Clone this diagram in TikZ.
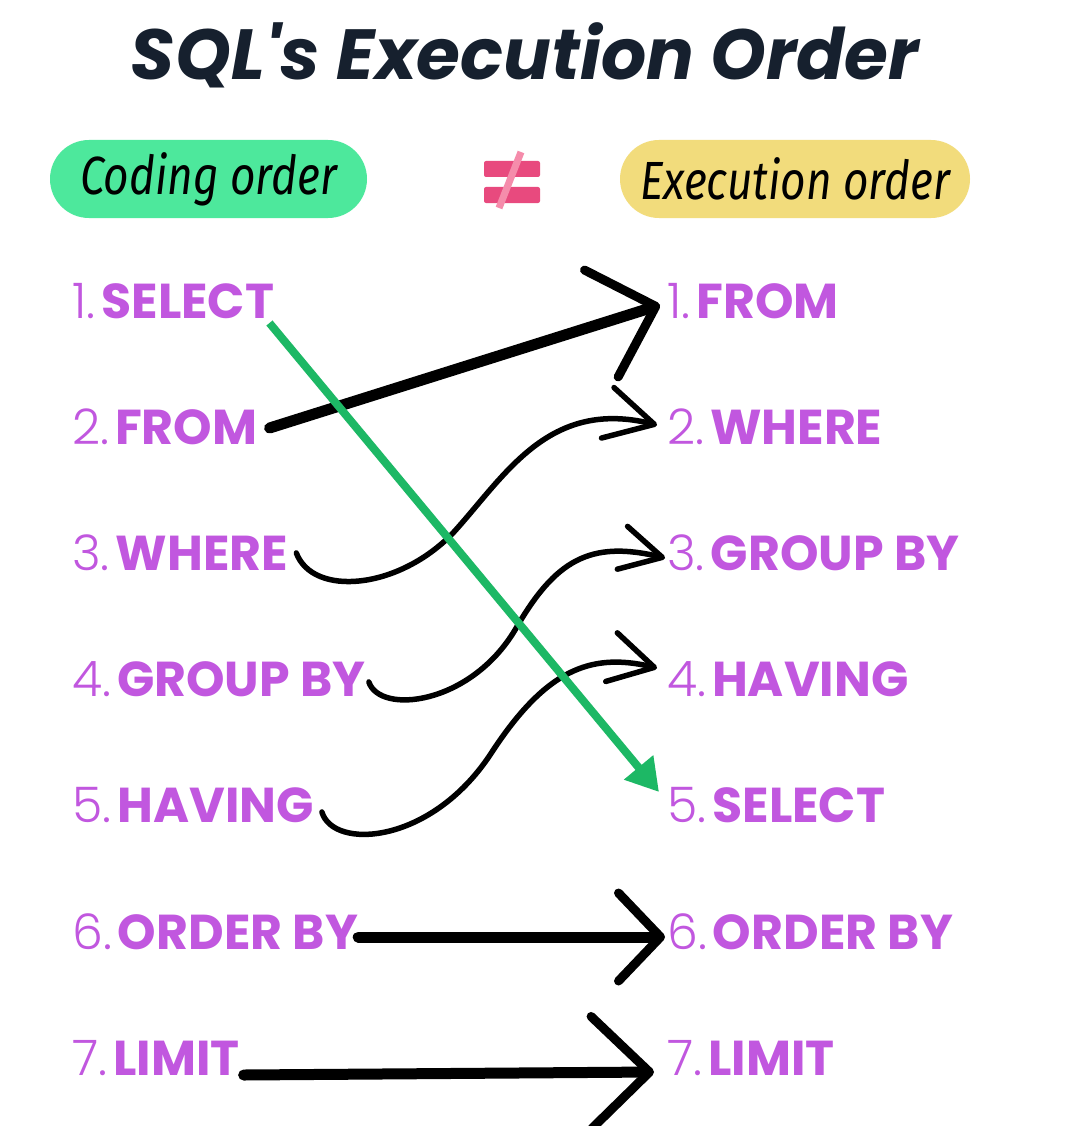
\documentclass[tikz,border=0pt]{standalone}
\usepackage{fontspec}
\usetikzlibrary{arrows.meta,shapes.misc}
\newfontfamily\popfont{Poppins}
\newfontfamily\numfont{Poppins Light}
\newfontfamily\titlefont{Poppins}[Ligatures=TeXOff]
\newfontfamily\handfont{Fira Sans}
\definecolor{titlenavy}{HTML}{16202E}
\definecolor{codegreen}{HTML}{4DE89C}
\definecolor{execyellow}{HTML}{F2DC7C}
\definecolor{neqpink}{HTML}{E84A7E}
\definecolor{neqslash}{HTML}{F58CAB}
\definecolor{itempurple}{HTML}{C157DF}
\definecolor{selgreen}{HTML}{1DB865}
\newcommand{\itemnum}[1]{{\numfont\mdseries #1}\hspace{6pt}}
\newcommand{\handtext}[1]{\scalebox{0.92}[1.12]{#1}}
\tikzstyle{item} = [anchor=base west, inner sep=0pt, text height=36pt, text depth=0pt, text=itempurple, font={\popfont\fontsize{49}{55}\selectfont\bfseries}]
\tikzstyle{pill} = [rounded rectangle, minimum height=78pt, inner sep=0pt, font={\handfont\itshape\fontsize{48}{52}\selectfont}]
\tikzstyle{brush} = [line width=11pt, line cap=round, black]
\tikzstyle{thin} = [line width=5.5pt, line cap=round, black]
\tikzstyle{selarrow} = [line width=8pt, selgreen, -{Triangle[length=32pt,width=36pt]}]

\begin{document}
\begin{tikzpicture}[x=1pt,y=-1pt]
    \useasboundingbox (0,0) rectangle (1078,1126);
    \fill[white] (0,0) rectangle (1078,1126);
    % title and header
    \node[text=titlenavy, font={\titlefont\fontsize{71}{76}\selectfont\bfseries\itshape}] (title) at (525,55) {SQL's Execution Order};
    \node[pill, fill=codegreen, minimum width=317pt] (coding) at (208.5,179) {\handtext{Coding order}};
    \node[pill, fill=execyellow, minimum width=350pt] (exec) at (795,179) {\handtext{Execution order}};
    \fill[neqpink, rounded corners=2pt] (484,161) rectangle (540,177);
    \fill[neqpink, rounded corners=2pt] (484,187) rectangle (540,203);
    \draw[neqslash, line width=7pt] (499,208) -- (521,152);
    % coding order
    \node[item](l1) at (72,318){\itemnum{1.}SELECT};
    \node[item](l2) at (72,444){\itemnum{2.}FROM};
    \node[item](l3) at (72,570){\itemnum{3.}WHERE};
    \node[item](l4) at (72,696){\itemnum{4.}GROUP BY};
    \node[item](l5) at (72,822){\itemnum{5.}HAVING};
    \node[item](l6) at (72,949){\itemnum{6.}ORDER BY};
    \node[item](l7) at (72,1075){\itemnum{7.}LIMIT};
    % execution order
    \node[item](r1) at (667,318){\itemnum{1.}FROM};
    \node[item](r2) at (667,444){\itemnum{2.}WHERE};
    \node[item](r3) at (667,570){\itemnum{3.}GROUP BY};
    \node[item](r4) at (667,696){\itemnum{4.}HAVING};
    \node[item](r5) at (667,822){\itemnum{5.}SELECT};
    \node[item](r6) at (667,949){\itemnum{6.}ORDER BY};
    \node[item](r7) at (667,1075){\itemnum{7.}LIMIT};
    % arrows
    \draw[brush,-{Straight Barb[length=57pt,width=112pt,line width=9pt,round]}] ([shift={(12,2)}]l2.east) -- ([shift={(-7,5)}]r1.west);
    \draw[thin,-{Straight Barb[length=48pt,width=52pt,line width=5.5pt,round]}] ([shift={(8,1)}]l3.east) .. controls (313,597) and (398,590) .. (453,533) .. controls (505,476) and (548,398) .. ([shift={(-10,-1)}]r2.west);
    \draw[thin,-{Straight Barb[length=41pt,width=44pt,line width=5.5pt,round]}] ([shift={(3,4)}]l4.east) .. controls (380,715) and (470,705) .. (515,630) .. controls (555,560) and (590,540) .. ([shift={(-2,6)}]r3.west);
    \draw[thin,-{Straight Barb[length=44pt,width=50pt,line width=5.5pt,round]}] ([shift={(8,8)}]l5.east) .. controls (333,850) and (430,845) .. (490,755) .. controls (545,670) and (590,652) .. ([shift={(-10,-10)}]r4.west);
    \draw[selarrow] ([shift={(-5,23)}]l1.east) -- ([shift={(-8,-12)}]r5.west);
    \draw[brush,-{Straight Barb[length=42pt,width=88pt,line width=9pt,round]}] ([shift={(0,6)}]l6.east) -- ([shift={(-2,6)}]r6.west);
    \draw[brush,-{Straight Barb[length=58pt,width=112pt,line width=9pt,round]}] ([shift={(4,18)}]l7.east) -- ([shift={(-13,15)}]r7.west);
\end{tikzpicture}
\end{document}
